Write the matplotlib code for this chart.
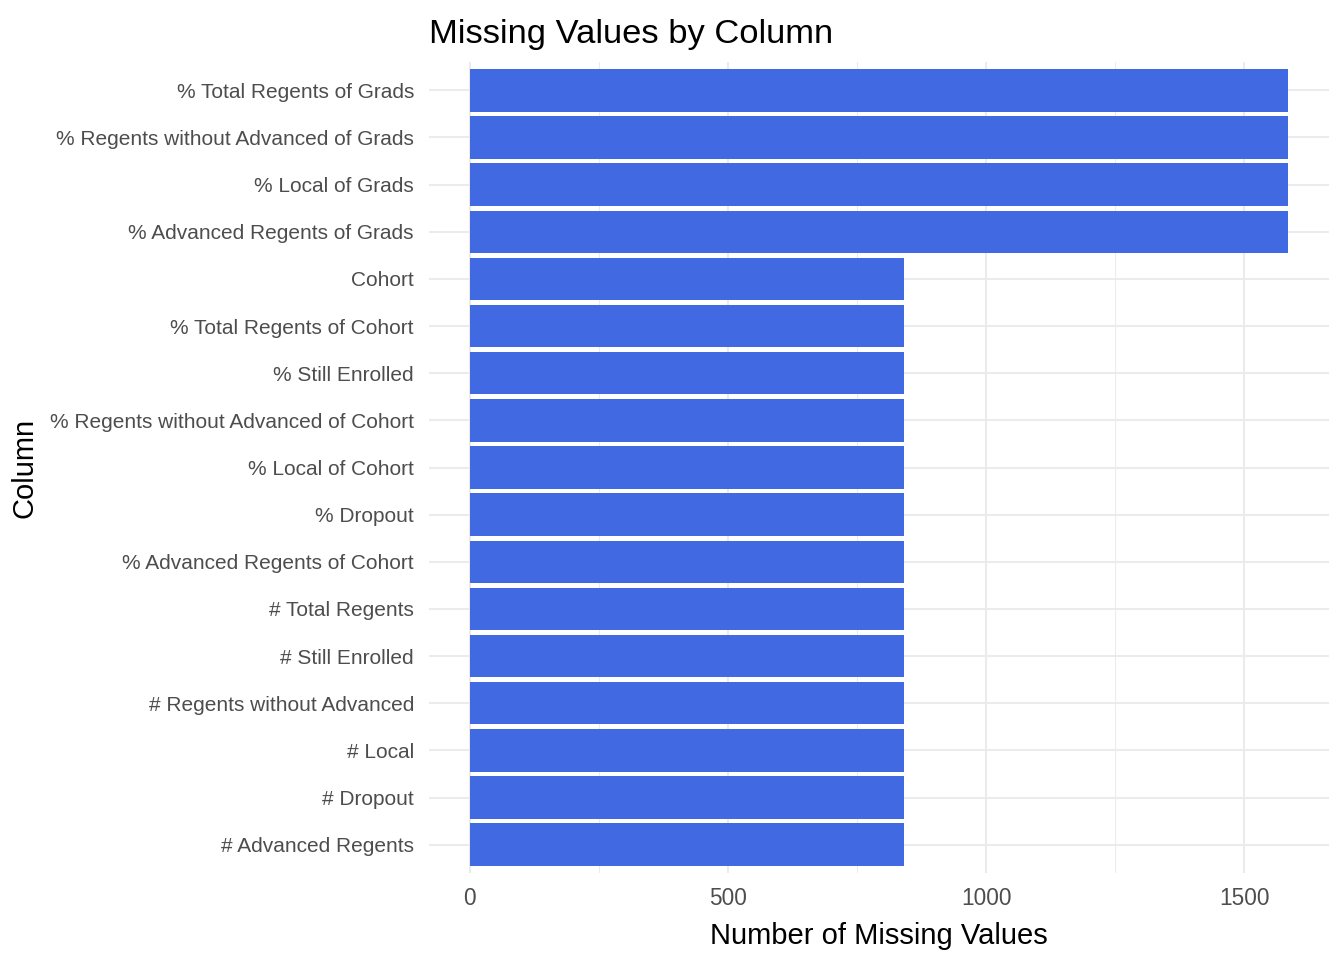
import matplotlib
matplotlib.use("Agg")
import matplotlib.pyplot as plt
from matplotlib.ticker import MultipleLocator

plt.rcParams['font.family'] = ['Liberation Sans', 'DejaVu Sans']

# categories listed bottom to top
columns = [
    "# Advanced Regents", "# Dropout", "# Local", "# Regents without Advanced",
    "# Still Enrolled", "# Total Regents", "% Advanced Regents of Cohort",
    "% Dropout", "% Local of Cohort", "% Regents without Advanced of Cohort",
    "% Still Enrolled", "% Total Regents of Cohort", "Cohort",
    "% Advanced Regents of Grads", "% Local of Grads",
    "% Regents without Advanced of Grads", "% Total Regents of Grads",
]
missing = [840] * 13 + [1585] * 4

W, H = 1344, 960
fig = plt.figure(figsize=(W / 100, H / 100), dpi=100)
ax = fig.add_axes([429 / W, 1 - 873 / H, 900 / W, (873 - 62) / H])

pos = list(range(len(columns)))
ax.barh(pos, missing, height=0.9, color="#4169E1", zorder=2)

xmax = max(missing)
ax.set_xlim(-0.05 * xmax, 1.05 * xmax)
ax.set_ylim(-0.6, len(columns) - 0.4)
ax.set_yticks(pos)
ax.set_yticklabels(columns)
ax.xaxis.set_major_locator(MultipleLocator(500))
ax.xaxis.set_minor_locator(MultipleLocator(250))

ax.grid(which="major", color="#EBEBEB", linewidth=1.5, zorder=0)
ax.grid(which="minor", axis="x", color="#EBEBEB", linewidth=0.75, zorder=0)
ax.set_axisbelow(True)
for s in ax.spines.values():
    s.set_visible(False)
ax.tick_params(which="both", length=0)
ax.tick_params(axis="y", labelsize=15, labelcolor="#4D4D4D", pad=10.8)
ax.tick_params(axis="x", labelsize=16.3, labelcolor="#4D4D4D", pad=10)

ax.set_xlabel("Number of Missing Values", fontsize=21, color="black", labelpad=9)
ax.set_ylabel("Column", fontsize=21, color="black")
ax.yaxis.set_label_coords((39 - 429) / 900, 0.5)
ax.set_title("Missing Values by Column", fontsize=24.8, loc="left", pad=14)

fig.savefig("out.png", dpi=100)
